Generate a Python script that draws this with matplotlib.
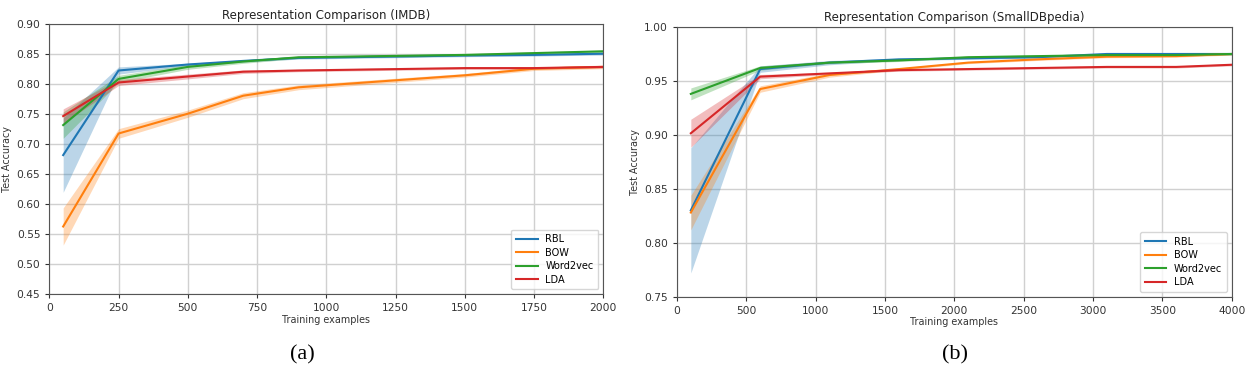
import numpy as np
import matplotlib
matplotlib.use('Agg')
import matplotlib.pyplot as plt

# IMDB data
imdb_x = [50, 250, 500, 700, 900, 1500, 1750, 2000]
imdb_rbl = [0.682, 0.823, 0.833, 0.839, 0.844, 0.848, 0.849, 0.851]
imdb_bow = [0.563, 0.718, 0.751, 0.781, 0.795, 0.815, 0.826, 0.829]
imdb_w2v = [0.732, 0.809, 0.829, 0.838, 0.845, 0.849, 0.852, 0.855]
imdb_lda = [0.747, 0.803, 0.813, 0.821, 0.823, 0.827, 0.827, 0.829]
imdb_rbl_err = [0.062, 0.006, 0.002, 0.002, 0.002, 0.002, 0.002, 0.002]
imdb_bow_err = [0.031, 0.008, 0.006, 0.005, 0.004, 0.003, 0.003, 0.003]
imdb_w2v_err = [0.022, 0.006, 0.004, 0.003, 0.002, 0.002, 0.002, 0.002]
imdb_lda_err = [0.012, 0.005, 0.004, 0.003, 0.002, 0.002, 0.002, 0.002]

# SmallDBpedia data
dbp_x = [100, 600, 1100, 1600, 2100, 2600, 3100, 3600, 4000]
dbp_rbl = [0.830, 0.961, 0.967, 0.970, 0.971, 0.972, 0.975, 0.975, 0.975]
dbp_bow = [0.828, 0.9425, 0.9555, 0.961, 0.967, 0.970, 0.9725, 0.973, 0.975]
dbp_w2v = [0.938, 0.962, 0.967, 0.969, 0.972, 0.973, 0.974, 0.974, 0.975]
dbp_lda = [0.9015, 0.954, 0.957, 0.960, 0.961, 0.962, 0.963, 0.963, 0.965]
dbp_rbl_err = [0.058, 0.003, 0.002, 0.001, 0.001, 0.001, 0.001, 0.001, 0.001]
dbp_bow_err = [0.016, 0.003, 0.002, 0.001, 0.001, 0.001, 0.001, 0.001, 0.001]
dbp_w2v_err = [0.0055, 0.002, 0.001, 0.001, 0.001, 0.001, 0.001, 0.001, 0.001]
dbp_lda_err = [0.013, 0.002, 0.001, 0.001, 0.001, 0.001, 0.001, 0.001, 0.001]

labels = ['RBL', 'BOW', 'Word2vec', 'LDA']
colors = ['#1f77b4', '#ff7f0e', '#2ca02c', '#d62728']

fig = plt.figure(figsize=(12.52, 3.75), dpi=100)
ax1 = fig.add_axes([0.0394, 0.2152, 0.4425, 0.72])
ax2 = fig.add_axes([0.5407, 0.2088, 0.4431, 0.7192])


def draw(ax, x, series, errs, title, xlim, ylim, xticks, yticks):
    x = np.array(x)
    for lab, c, y, e in zip(labels, colors, series, errs):
        y = np.array(y)
        e = np.array(e)
        ax.fill_between(x, y - e, y + e, color=c, alpha=0.3, linewidth=0)
        ax.plot(x, y, color=c, lw=1.5, label=lab)
    ax.set_xlim(*xlim)
    ax.set_ylim(*ylim)
    ax.set_xticks(xticks)
    ax.set_yticks(yticks)
    ax.set_yticklabels(['%.2f' % v for v in yticks])
    ax.grid(True, color='#d0d0d0', lw=1)
    ax.set_axisbelow(True)
    ax.tick_params(labelsize=7.7, colors='#333333', length=3)
    for s in ax.spines.values():
        s.set_color('#555555')
    ax.set_title(title, fontsize=8.5, color='#222222', pad=4)
    ax.set_xlabel('Training examples', fontsize=6.9, color='#333333', labelpad=1)
    ax.set_ylabel('Test Accuracy', fontsize=6.9, color='#333333', labelpad=3)
    ax.legend(loc='lower right', fontsize=7, frameon=True, handlelength=2.2,
              borderpad=0.5, labelspacing=0.35)


draw(ax1, imdb_x, [imdb_rbl, imdb_bow, imdb_w2v, imdb_lda],
     [imdb_rbl_err, imdb_bow_err, imdb_w2v_err, imdb_lda_err],
     'Representation Comparison (IMDB)', (0, 2000), (0.45, 0.90),
     [0, 250, 500, 750, 1000, 1250, 1500, 1750, 2000],
     np.round(np.arange(0.45, 0.901, 0.05), 2))
draw(ax2, dbp_x, [dbp_rbl, dbp_bow, dbp_w2v, dbp_lda],
     [dbp_rbl_err, dbp_bow_err, dbp_w2v_err, dbp_lda_err],
     'Representation Comparison (SmallDBpedia)', (0, 4000), (0.75, 1.00),
     [0, 500, 1000, 1500, 2000, 2500, 3000, 3500, 4000],
     np.round(np.arange(0.75, 1.001, 0.05), 2))

fig.text(302 / 1252, 1 - 355 / 375, '(a)', ha='center', va='center',
         fontsize=16, family='Liberation Serif')
fig.text(955 / 1252, 1 - 355 / 375, '(b)', ha='center', va='center',
         fontsize=16, family='Liberation Serif')

fig.savefig('out.png', dpi=100)
